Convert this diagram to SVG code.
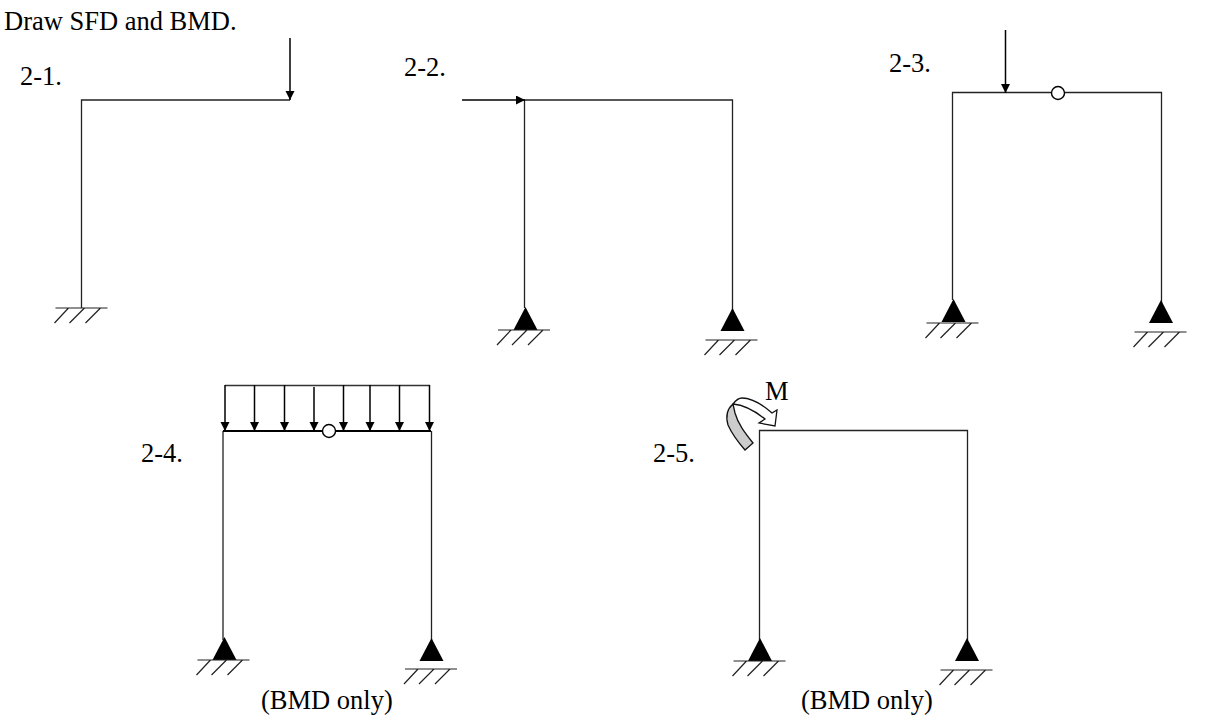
<svg xmlns="http://www.w3.org/2000/svg" width="1219" height="727" viewBox="0 0 1219 727">
<style>
text{font-family:"Liberation Serif","Times New Roman",serif;font-size:26.5px;fill:#000}
.f{fill:none;stroke:#222;stroke-width:1.3}
.g{fill:none;stroke:#222;stroke-width:1.2}
.a{fill:none;stroke:#000;stroke-width:1.5}
.h{fill:#fff;stroke:#000;stroke-width:1.4}
.t{fill:#000}
</style>
<defs>
<g id="ground"><path class="g" d="M-26 0H26M-13 0L-27 15M3 0L-12 15M19 0L4 15"/></g>
<g id="pin"><path class="t" d="M0 -23L-12 0H12Z"/></g>
<marker id="ah" markerUnits="userSpaceOnUse" markerWidth="10" markerHeight="10" refX="9" refY="4.500" orient="auto"><path d="M0 0L9 4.500L0 9Z" fill="#000"/></marker>
</defs>
<rect width="1219" height="727" fill="#fff"/>
<text x="4" y="30">Draw SFD and BMD.</text>
<g id="frame-2-1">
<text x="20" y="85">2-1.</text>
<path class="f" d="M81.500 308V100H290"/>
<use href="#ground" x="81.500" y="308"/>
</g>
<g id="frame-2-2">
<text x="404" y="76">2-2.</text>
<path class="f" d="M524.500 308V100H732.500V312"/>
<use href="#pin" x="525.500" y="330"/><use href="#ground" x="524" y="330"/>
<use href="#pin" x="732.500" y="331"/><use href="#ground" x="731.500" y="340"/>
</g>
<g id="frame-2-3">
<text x="889" y="72">2-3.</text>
<path class="f" d="M952.500 300V92.500H1161.500V304"/>
<circle class="h" cx="1058" cy="93" r="6.500"/>
<use href="#pin" x="953.500" y="322"/><use href="#ground" x="952.500" y="323"/>
<use href="#pin" x="1161" y="323"/><use href="#ground" x="1160.500" y="332"/>
</g>
<g id="frame-2-4">
<text x="141" y="462">2-4.</text>
<path class="f" d="M223 640V431M431.500 640V431"/>
<path d="M223 431H431" fill="none" stroke="#000" stroke-width="2"/>
<path fill="none" stroke="#333" stroke-width="1.500" d="M225 385.500H430"/>
<circle class="h" cx="329" cy="431" r="6.500"/>
<use href="#pin" x="224.500" y="660"/><use href="#ground" x="223.500" y="660"/>
<use href="#pin" x="431.500" y="661"/><use href="#ground" x="431" y="669"/>
</g>
<g id="frame-2-5">
<text x="653" y="462">2-5.</text>
<path class="f" d="M759.500 640V430.500H967.500V640"/>
<path d="M733 404C726 410 726 418 728 425C732 434 738 442 745 450L753 443C745 433 738 424 735 413Z" fill="#ccc" stroke="#111" stroke-width="1.300"/>
<path d="M733 404C736 400 739 398 742 398C752 398 764 406 772 413L777 410L775 426L759 423L765 419C755 411 745 405 733 404Z" fill="#fff" stroke="#111" stroke-width="1.300"/>
<text x="765" y="400">M</text>
<use href="#pin" x="760" y="661"/><use href="#ground" x="759.500" y="661"/>
<use href="#pin" x="967" y="661"/><use href="#ground" x="966.500" y="670"/>
</g>
<text x="261" y="709">(BMD only)</text>
<text x="801" y="709">(BMD only)</text>
<g id="connectors">
<path class="a" marker-end="url(#ah)" d="M290 38V100"/>
<path class="a" marker-end="url(#ah)" d="M462 100H525"/>
<path class="a" marker-end="url(#ah)" d="M1005.500 30V93"/>
<path class="a" marker-end="url(#ah)" d="M225 385V431"/>
<path class="a" marker-end="url(#ah)" d="M254.500 385V431"/>
<path class="a" marker-end="url(#ah)" d="M284.500 385V431"/>
<path class="a" marker-end="url(#ah)" d="M314 387V431"/>
<path class="a" marker-end="url(#ah)" d="M343.500 385V431"/>
<path class="a" marker-end="url(#ah)" d="M370 385V431"/>
<path class="a" marker-end="url(#ah)" d="M399.500 385V431"/>
<path class="a" marker-end="url(#ah)" d="M429.500 385V431"/>
</g>
</svg>
